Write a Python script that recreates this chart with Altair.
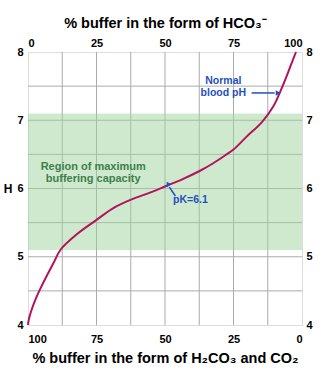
import altair as alt
import pandas as pd

# curve: % buffer as HCO3- (top axis) vs pH
hco3_pct = [0, 0.2, 0.6, 1.3, 2.2, 3.2, 4.6, 6.2, 9.2, 12.0, 17.8, 25.0, 31.0, 37.8, 44.5, 50.6,
            55.5, 62.8, 67.6, 72.5, 75.0, 79.8, 85.3, 89.5, 92.6, 95.0, 97.8]
ph_values = [4.0, 4.06, 4.13, 4.22, 4.32, 4.42, 4.54, 4.67, 4.9, 5.11, 5.33, 5.54, 5.71, 5.84, 5.94, 6.04,
             6.12, 6.26, 6.37, 6.5, 6.57, 6.76, 6.97, 7.2, 7.47, 7.71, 8.0]

band_low = [5.1]
band_high = [7.1]

x_ticks = [0, 25, 50, 75, 100]
y_ticks = [4, 5, 6, 7, 8]
x_grid = [12.5, 25, 37.5, 50, 62.5, 75, 87.5]
y_grid = [4.5, 5, 5.5, 6, 6.5, 7, 7.5]

# annotations
green_text = ["Region of maximum", "buffering capacity"]
green_x = [23.8, 23.8]
green_y = [6.32, 6.14]
blue_text = ["Normal", "blood pH", "pK=6.1"]
blue_x = [71.3, 71.3, 59.3]
blue_y = [7.58, 7.40, 5.83]

arrow1_x = [81.6, 90.0]
arrow1_y = [7.4, 7.4]
arrow1_head = [91.0, 7.4]
arrow2_x = [53.8, 51.6]
arrow2_y = [5.89, 6.02]
arrow2_head = [51.2, 6.06]

FONT = "Liberation Sans"
CURVE = "#b5125e"
BLUE = "#1f4fbf"
GREEN = "#3d804a"

xs = alt.Scale(domain=[0, 100], nice=False, zero=False)
ys = alt.Scale(domain=[4, 8], nice=False, zero=False)

curve_df = pd.DataFrame({"x": hco3_pct, "y": ph_values})
band_df = pd.DataFrame({"x": [0], "x2": [100], "y": band_low, "y2": band_high})
gx_df = pd.DataFrame({"x": x_grid})
gy_df = pd.DataFrame({"y": y_grid})
green_df = pd.DataFrame({"x": green_x, "y": green_y, "t": green_text})
blue_df = pd.DataFrame({"x": blue_x, "y": blue_y, "t": blue_text})
a1_df = pd.DataFrame({"x": arrow1_x, "y": arrow1_y})
a2_df = pd.DataFrame({"x": arrow2_x, "y": arrow2_y})
h1_df = pd.DataFrame({"x": [arrow1_head[0]], "y": [arrow1_head[1]]})
h2_df = pd.DataFrame({"x": [arrow2_head[0]], "y": [arrow2_head[1]]})

common_axis = dict(ticks=False, domain=False, grid=False, labelFont=FONT,
                   labelFontSize=11, labelFontWeight="bold", labelColor="black",
                   titleFont=FONT, titleFontSize=14.5, titleFontWeight="bold",
                   titleColor="black")

top_axis = alt.Axis(orient="top", values=x_ticks, title="% buffer in the form of HCO₃⁻",
                    labelPadding=4, titlePadding=7, **common_axis)
bottom_axis = alt.Axis(orient="bottom", values=x_ticks, labelExpr="100 - datum.value",
                       title="% buffer in the form of H₂CO₃ and CO₂",
                       labelPadding=8, titlePadding=7, **common_axis)
left_axis = alt.Axis(orient="left", values=y_ticks, title=None, labelPadding=5,
                     **common_axis)
right_axis = alt.Axis(orient="right", values=y_ticks, title=None, labelPadding=4,
                      **common_axis)

band = alt.Chart(band_df).mark_rect(color="#9fd39f", opacity=0.5).encode(
    x=alt.X("x:Q", scale=xs, axis=top_axis),
    x2="x2:Q",
    y=alt.Y("y:Q", scale=ys, axis=left_axis),
    y2="y2:Q",
)

grid_v = alt.Chart(gx_df).mark_rule(color="#ababab", strokeWidth=1).encode(
    x=alt.X("x:Q", scale=xs, axis=bottom_axis),
    y=alt.value(0), y2=alt.value(273),
)
grid_h = alt.Chart(gy_df).mark_rule(color="#ababab", strokeWidth=1).encode(
    y=alt.Y("y:Q", scale=ys, axis=right_axis),
    x=alt.value(0), x2=alt.value(274),
)

curve = alt.Chart(curve_df).mark_line(color=CURVE, strokeWidth=2, interpolate="catmull-rom").encode(
    x=alt.X("x:Q", scale=xs, axis=None),
    y=alt.Y("y:Q", scale=ys, axis=None),
)

gtext = alt.Chart(green_df).mark_text(font=FONT, fontSize=11, fontWeight="bold",
                                      color=GREEN, align="center", baseline="middle").encode(
    x=alt.X("x:Q", scale=xs, axis=None), y=alt.Y("y:Q", scale=ys, axis=None), text="t:N")
btext = alt.Chart(blue_df).mark_text(font=FONT, fontSize=10.5, fontWeight="bold",
                                     color=BLUE, align="center", baseline="middle").encode(
    x=alt.X("x:Q", scale=xs, axis=None), y=alt.Y("y:Q", scale=ys, axis=None), text="t:N")

a1 = alt.Chart(a1_df).mark_line(color=BLUE, strokeWidth=1.5).encode(
    x=alt.X("x:Q", scale=xs, axis=None), y=alt.Y("y:Q", scale=ys, axis=None))
a2 = alt.Chart(a2_df).mark_line(color=BLUE, strokeWidth=1.5).encode(
    x=alt.X("x:Q", scale=xs, axis=None), y=alt.Y("y:Q", scale=ys, axis=None))
h1 = alt.Chart(h1_df).mark_point(shape="triangle", filled=True, color=BLUE, size=30,
                                 angle=90, opacity=1).encode(
    x=alt.X("x:Q", scale=xs, axis=None), y=alt.Y("y:Q", scale=ys, axis=None))
h2 = alt.Chart(h2_df).mark_point(shape="triangle", filled=True, color=BLUE, size=30,
                                 angle=328, opacity=1).encode(
    x=alt.X("x:Q", scale=xs, axis=None), y=alt.Y("y:Q", scale=ys, axis=None))

hlabel = alt.Chart(pd.DataFrame({"y": [6.0], "t": ["H"]})).mark_text(
    font=FONT, fontSize=12, fontWeight="bold", color="black", align="center",
    baseline="middle").encode(
    x=alt.value(-20), y=alt.Y("y:Q", scale=ys, axis=None), text="t:N")

chart = alt.layer(
    grid_v, grid_h, band, curve, a1, a2, h1, h2, gtext, btext, hlabel
).resolve_axis(x="independent", y="independent").properties(
    width=274, height=273,
    autosize=alt.AutoSizeParams(type="none"),
    padding={"left": 28, "top": 52, "right": 26, "bottom": 56},
).configure_view(stroke="black", strokeWidth=2.5).configure(background="white")

chart.save("out.html", embed_options={"renderer": "svg", "actions": False})
